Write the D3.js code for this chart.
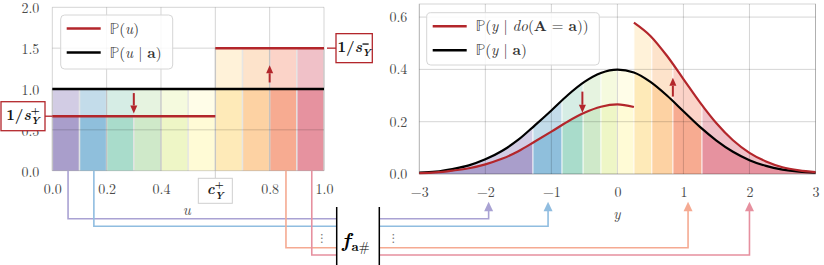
<!DOCTYPE html>
<html>
<head>
<meta charset="utf-8">
<script src="https://cdn.jsdelivr.net/npm/d3@7"></script>
<style>
  body { margin: 0; background: #fff; }
</style>
</head>
<body>
<svg id="fig" width="824" height="265"></svg>
<script>
// ---- data ----
const uEdges = [0, 0.1, 0.2, 0.3, 0.4, 0.5, 0.6, 0.7, 0.8, 0.9, 1.0];
const pUSteps = [0, 0.6, 1.0];          // P(u) is piecewise constant
const pUValues = [0.667, 1.5];
const pUgivenA = 1.0;
const uTicks = [0, 0.2, 0.4, 0.6, 0.8, 1.0];
const pTicks = [0, 0.5, 1.0, 1.5, 2.0];

const yEdges = [-3, -1.28, -0.84, -0.52, -0.25, 0, 0.25, 0.52, 0.84, 1.28, 3];
const yTicks = [-3, -2, -1, 0, 1, 2, 3];
const densTicks = [0, 0.2, 0.4, 0.6];

const yPts = [-3, -2.75, -2.5, -2.25, -2, -1.75, -1.5, -1.25, -1, -0.75, -0.5, -0.25, 0,
              0.25, 0.5, 0.75, 1, 1.25, 1.5, 1.75, 2, 2.25, 2.5, 2.75, 3];
const pYgivenA = [0.005, 0.009, 0.019, 0.033, 0.056, 0.088, 0.131, 0.186, 0.243, 0.302, 0.352, 0.386, 0.399,
                  0.388, 0.352, 0.300, 0.240, 0.180, 0.128, 0.085, 0.053, 0.031, 0.017, 0.009, 0.005];
const doLowX = [-3, -2.75, -2.5, -2.25, -2, -1.75, -1.5, -1.25, -1, -0.75, -0.5, -0.25, 0, 0.25];
const doLow  = [0.003, 0.006, 0.013, 0.022, 0.037, 0.058, 0.087, 0.124, 0.162, 0.201, 0.234, 0.257, 0.266, 0.256];
const doHighX = [0.25, 0.5, 0.75, 1, 1.25, 1.5, 1.75, 2, 2.25, 2.5, 2.75, 3];
const doHigh  = [0.579, 0.528, 0.452, 0.363, 0.274, 0.194, 0.129, 0.081, 0.048, 0.026, 0.014, 0.007];

// arrows showing the shift of mass
const shiftU = [{u: 0.3, from: 0.95, to: 0.70}, {u: 0.8, from: 1.08, to: 1.29}];
const shiftY = [{y: -0.53, from: 0.315, to: 0.234}, {y: 0.84, from: 0.296, to: 0.368}];

// links u -> y through the push-forward map
const linkU = [0.058, 0.153, 0.86, 0.955];
const linkY = [-1.95, -1.05, 1.07, 2.0];

// ---- styles ----
const FONT = "'Latin Modern Roman', 'Latin Modern Math', 'Liberation Serif', serif";
const binLight = ["#d2cce4", "#c3dcea", "#d6ede5", "#e6f3e0", "#f5fade", "#fffde8",
                  "#fff2d9", "#fde3cb", "#fbd3c8", "#f0c1c8"];
const binDark  = ["#a99ecb", "#8fbfdc", "#a9dccb", "#cfe9c9", "#eef6c6", "#fffbd6",
                  "#feeab8", "#fdd2a3", "#f7ab91", "#e6929f"];
const linkColors = ["#a9a2d3", "#90bde0", "#f5aa92", "#e6909f"];
const RED = "#b3262b";
const GRID = "rgba(0,0,0,0.17)";
const TICK = "#4a4a4a";
const rowY = [218.7, 226.3, 247.7, 255];   // heights of the link rows

const svg = d3.select("#fig").style("font-family", FONT);

const xL = d3.scaleLinear().domain([0, 1]).range([52.3, 324]);
const yL = d3.scaleLinear().domain([0, 2]).range([170.7, 7.3]);
const xR = d3.scaleLinear().domain([-3, 3]).range([419.3, 815.5]);
const yR = d3.scaleLinear().domain([0, 0.65]).range([174, 4]);

function pUat(u) {
  for (let i = 0; i < pUValues.length; i++)
    if (u >= pUSteps[i] && u < pUSteps[i + 1]) return pUValues[i];
  return pUValues[pUValues.length - 1];
}

function arrowV(g, x, y0, y1, color, w, len) {
  const dir = y1 > y0 ? 1 : -1;
  g.append("line").attr("x1", x).attr("x2", x).attr("y1", y0).attr("y2", y1 - dir * len)
    .attr("stroke", color).attr("stroke-width", 2);
  g.append("path")
    .attr("d", `M${x},${y1} L${x - w / 2},${y1 - dir * len} L${x + w / 2},${y1 - dir * len} Z`)
    .attr("fill", color);
}

function styleTicks(g) {
  g.select(".domain").remove();
  g.selectAll(".tick line").remove();
  g.attr("font-family", null);
  g.selectAll("text").attr("fill", TICK).style("font-size", "14px").style("font-family", FONT);
}

// symbol with stacked super/subscript, centred on cx
function scripted(cx, baseY, main, sup, sub, size, color) {
  const g = svg.append("g").attr("fill", color).style("font-weight", "bold");
  const t = g.append("text").attr("x", 0).attr("y", baseY).style("font-size", size + "px");
  main.forEach(p => t.append("tspan").text(p[0]).style("font-style", p[1] ? "italic" : null));
  const mw = t.node().getComputedTextLength();
  const small = size * 0.68;
  let supW;
  if (sup === "-") {
    // minus sign drawn as a short bar
    supW = small * 0.6;
    g.append("rect").attr("x", mw + 0.5).attr("y", baseY - size * 0.55).attr("width", supW).attr("height", 1.3);
  } else {
    const s = g.append("text").attr("x", mw).attr("y", baseY - size * 0.4)
      .style("font-size", small + "px").text(sup);
    supW = s.node().getComputedTextLength();
  }
  const b = g.append("text").attr("x", mw).attr("y", baseY + size * 0.3)
    .style("font-size", small + "px").style("font-style", "italic").text(sub);
  const total = mw + Math.max(supW, b.node().getComputedTextLength());
  g.attr("transform", `translate(${cx - total / 2},0)`);
  return g;
}

// ================= left panel =================
const left = svg.append("g");

const bins = d3.range(uEdges.length - 1).map(i => {
  const p = pUat((uEdges[i] + uEdges[i + 1]) / 2);
  return {i, u0: uEdges[i], u1: uEdges[i + 1], lo: Math.min(p, pUgivenA), hi: Math.max(p, pUgivenA)};
});

left.append("g").selectAll("rect").data(bins).join("rect")
  .attr("x", d => xL(d.u0)).attr("width", d => xL(d.u1) - xL(d.u0))
  .attr("y", d => yL(d.lo)).attr("height", d => yL(0) - yL(d.lo))
  .attr("fill", d => binDark[d.i]);
left.append("g").selectAll("rect").data(bins).join("rect")
  .attr("x", d => xL(d.u0)).attr("width", d => xL(d.u1) - xL(d.u0))
  .attr("y", d => yL(d.hi)).attr("height", d => yL(d.lo) - yL(d.hi))
  .attr("fill", d => binLight[d.i]);
// bar edges
left.append("g").selectAll("line").data(uEdges).join("line")
  .attr("x1", d => xL(d)).attr("x2", d => xL(d))
  .attr("y1", yL(0)).attr("y2", d => yL(Math.max(pUat(Math.max(0, d - 0.001)), pUat(Math.min(0.999, d)), pUgivenA)))
  .attr("stroke", "rgba(228,228,228,0.9)").attr("stroke-width", 1.6);

// grid + frame
left.append("g").selectAll("line").data(pTicks).join("line")
  .attr("x1", xL(0)).attr("x2", xL(1)).attr("y1", d => yL(d)).attr("y2", d => yL(d))
  .attr("stroke", GRID);
left.append("g").selectAll("line").data(uTicks).join("line")
  .attr("x1", d => xL(d)).attr("x2", d => xL(d)).attr("y1", yL(0)).attr("y2", yL(2))
  .attr("stroke", GRID);

left.append("g").attr("transform", `translate(0,${yL(0)})`)
  .call(d3.axisBottom(xL).tickValues(uTicks).tickSize(0).tickPadding(13)
    .tickFormat(d => Math.abs(d - 0.6) < 1e-9 ? "" : d3.format(".1f")(d)))
  .call(styleTicks);
left.append("g").attr("transform", `translate(${xL(0)},0)`)
  .call(d3.axisLeft(yL).tickValues(pTicks).tickSize(0).tickPadding(13).tickFormat(d3.format(".1f")))
  .call(styleTicks)
  .call(g => g.selectAll("text").attr("dy", "0.38em"));

// P(u|a) and P(u)
left.append("line").attr("x1", xL(0)).attr("x2", xL(1))
  .attr("y1", yL(pUgivenA)).attr("y2", yL(pUgivenA))
  .attr("stroke", "#000").attr("stroke-width", 2.5);
left.append("g").selectAll("line").data(pUValues).join("line")
  .attr("x1", (d, i) => xL(pUSteps[i])).attr("x2", (d, i) => xL(pUSteps[i + 1]))
  .attr("y1", d => yL(d)).attr("y2", d => yL(d))
  .attr("stroke", RED).attr("stroke-width", 2.5);

shiftU.forEach(a => arrowV(left, xL(a.u), yL(a.from), yL(a.to), RED, 7, 8));

// ================= right panel =================
const right = svg.append("g");
const defs = svg.append("defs");

const areaBlack = d3.area().curve(d3.curveMonotoneX)
  .x((d, i) => xR(yPts[i])).y0(yR(0)).y1(d => yR(d));
const areaLow = d3.area().curve(d3.curveMonotoneX)
  .x((d, i) => xR(doLowX[i])).y0(yR(0)).y1(d => yR(d));
const areaHigh = d3.area().curve(d3.curveMonotoneX)
  .x((d, i) => xR(doHighX[i])).y0(yR(0)).y1(d => yR(d));

const redClip = defs.append("clipPath").attr("id", "redClip");
redClip.append("path").attr("d", areaLow(doLow));
redClip.append("path").attr("d", areaHigh(doHigh));
const unionClip = defs.append("clipPath").attr("id", "unionClip");
unionClip.append("path").attr("d", areaLow(doLow));
unionClip.append("path").attr("d", areaHigh(doHigh));
unionClip.append("path").attr("d", areaBlack(pYgivenA));

d3.range(yEdges.length - 1).forEach(i => {
  defs.append("clipPath").attr("id", "ybin" + i).append("rect")
    .attr("x", xR(yEdges[i])).attr("width", xR(yEdges[i + 1]) - xR(yEdges[i]))
    .attr("y", 0).attr("height", yR(0));
  const g = right.append("g").attr("clip-path", `url(#ybin${i})`);
  g.append("path").attr("d", areaBlack(pYgivenA)).attr("fill", binLight[i]);
  g.append("path").attr("d", areaLow(doLow)).attr("fill", binLight[i]);
  g.append("path").attr("d", areaHigh(doHigh)).attr("fill", binLight[i]);
  g.append("g").attr("clip-path", "url(#redClip)")
    .append("path").attr("d", areaBlack(pYgivenA)).attr("fill", binDark[i]);
});
right.append("g").attr("clip-path", "url(#unionClip)")
  .selectAll("line").data(yEdges.slice(1, -1)).join("line")
  .attr("x1", d => xR(d)).attr("x2", d => xR(d)).attr("y1", yR(0)).attr("y2", yR(0.65))
  .attr("stroke", "rgba(255,255,255,0.75)").attr("stroke-width", 1.3);

right.append("g").selectAll("line").data(densTicks).join("line")
  .attr("x1", xR(-3)).attr("x2", xR(3)).attr("y1", d => yR(d)).attr("y2", d => yR(d))
  .attr("stroke", GRID);
right.append("g").selectAll("line").data(yTicks).join("line")
  .attr("x1", d => xR(d)).attr("x2", d => xR(d)).attr("y1", yR(0)).attr("y2", yR(0.65))
  .attr("stroke", GRID);
right.append("rect").attr("x", xR(-3)).attr("y", yR(0.65))
  .attr("width", xR(3) - xR(-3)).attr("height", yR(0) - yR(0.65))
  .attr("fill", "none").attr("stroke", GRID);

right.append("g").attr("transform", `translate(0,${yR(0)})`)
  .call(d3.axisBottom(xR).tickValues(yTicks).tickSize(0).tickPadding(13).tickFormat(d3.format("d")))
  .call(styleTicks);
right.append("g").attr("transform", `translate(${xR(-3)},0)`)
  .call(d3.axisLeft(yR).tickValues(densTicks).tickSize(0).tickPadding(12).tickFormat(d3.format(".1f")))
  .call(styleTicks);

const lineBlack = d3.line().curve(d3.curveMonotoneX).x((d, i) => xR(yPts[i])).y(d => yR(d));
const lineLow = d3.line().curve(d3.curveMonotoneX).x((d, i) => xR(doLowX[i])).y(d => yR(d));
const lineHigh = d3.line().curve(d3.curveMonotoneX).x((d, i) => xR(doHighX[i])).y(d => yR(d));
right.append("path").attr("d", lineBlack(pYgivenA)).attr("fill", "none")
  .attr("stroke", "#000").attr("stroke-width", 2.2);
right.append("path").attr("d", lineLow(doLow)).attr("fill", "none")
  .attr("stroke", RED).attr("stroke-width", 2.2);
right.append("path").attr("d", lineHigh(doHigh)).attr("fill", "none")
  .attr("stroke", RED).attr("stroke-width", 2.2);

shiftY.forEach(a => arrowV(right, xR(a.y), yR(a.from), yR(a.to), RED, 7, 8));

// ================= legends =================
function legend(x, y, w, h, rows) {
  const g = svg.append("g");
  g.append("rect").attr("x", x).attr("y", y).attr("width", w).attr("height", h).attr("rx", 4)
    .attr("fill", "rgba(255,255,255,0.85)").attr("stroke", "#d6d6d6");
  rows.forEach((r, k) => {
    const cy = y + 13.5 + k * 24;
    g.append("line").attr("x1", x + 6).attr("x2", x + 40).attr("y1", cy).attr("y2", cy)
      .attr("stroke", r.color).attr("stroke-width", 2.5);
    const t = g.append("text").attr("x", x + 49).attr("y", cy + 5).style("font-size", "15px").attr("fill", "#333");
    r.parts.forEach(p => t.append("tspan").text(p[0])
      .style("font-weight", p[1] && p[1].includes("b") ? "bold" : null)
      .style("font-style", p[1] && p[1].includes("i") ? "italic" : null));
  });
}
legend(60.7, 15, 112, 54, [
  {color: RED, parts: [["ℙ("], ["u", "i"], [")"]]},
  {color: "#000", parts: [["ℙ("], ["u", "i"], [" | "], ["a", "b"], [")"]]}
]);
legend(426.7, 12.7, 172.6, 52.3, [
  {color: RED, parts: [["ℙ("], ["y", "i"], [" | "], ["do", "i"], ["("], ["A", "b"], [" = "], ["a", "b"], ["))"]]},
  {color: "#000", parts: [["ℙ("], ["y", "i"], [" | "], ["a", "b"], [")"]]}
]);

// ================= annotation boxes =================
function sBox(x, w, value, sign, tickFrom, tickTo) {
  const cy = yL(value);
  svg.append("line").attr("x1", tickFrom).attr("x2", tickTo).attr("y1", cy).attr("y2", cy)
    .attr("stroke", RED).attr("stroke-width", 1.3);
  svg.append("rect").attr("x", x).attr("y", cy - 14.5).attr("width", w).attr("height", 29)
    .attr("fill", "#fff").attr("stroke", RED).attr("stroke-width", 1.3);
  scripted(x + w / 2, cy + 3.5, [["1/"], ["s", true]], sign, "Y", 15, "#111");
}
sBox(1, 44, pUValues[0], "+", 45, xL(0));
sBox(336, 36.3, pUValues[1], "-", xL(1) + 3, 336);

// c_Y^+ box under u = 0.6
const cx = xL(pUSteps[1]);
svg.append("line").attr("x1", cx).attr("x2", cx).attr("y1", yL(0)).attr("y2", 178.3).attr("stroke", "#cfcfcf");
svg.append("rect").attr("x", cx - 17).attr("y", 178.3).attr("width", 34).attr("height", 25)
  .attr("fill", "#fff").attr("stroke", "#cfcfcf");
scripted(cx, 194, [["c", true]], "+", "Y", 15, "#222");

// axis labels
svg.append("text").attr("x", 186.7).attr("y", 215).attr("text-anchor", "middle")
  .style("font-size", "15px").style("font-style", "italic").attr("fill", TICK).text("u");
svg.append("text").attr("x", 617).attr("y", 219).attr("text-anchor", "middle")
  .style("font-size", "15px").style("font-style", "italic").attr("fill", TICK).text("y");

// ================= push-forward links =================
const boxL = 336.7, boxR = 379.3, tipY = 201.7;
const links = svg.append("g").attr("fill", "none").attr("stroke-width", 1.6);
linkU.forEach((u, k) => {
  const xs = xL(u), xt = xR(linkY[k]), ry = rowY[k];
  links.append("path").attr("d", `M${xs},${yL(0)} V${ry} H${boxL}`).attr("stroke", linkColors[k]);
  links.append("path").attr("d", `M${boxR},${ry} H${xt} V${tipY + 9}`).attr("stroke", linkColors[k]);
  svg.append("path").attr("d", `M${xt},${tipY} L${xt - 4.5},${tipY + 9.5} L${xt + 4.5},${tipY + 9.5} Z`)
    .attr("fill", linkColors[k]);
});

svg.append("line").attr("x1", boxL).attr("x2", boxL).attr("y1", 207).attr("y2", 265)
  .attr("stroke", "#000").attr("stroke-width", 1.5);
svg.append("line").attr("x1", boxR).attr("x2", boxR).attr("y1", 207).attr("y2", 265)
  .attr("stroke", "#000").attr("stroke-width", 1.5);
const ft = svg.append("text").attr("x", 342).attr("y", 247).attr("fill", "#000");
ft.append("tspan").text("f").style("font-size", "21px").style("font-style", "italic").style("font-weight", "bold");
ft.append("tspan").text("a").style("font-size", "13px").style("font-weight", "bold").attr("dx", 1).attr("dy", 4);
ft.append("tspan").text("#").style("font-size", "13px");
[321.7, 393.3].forEach(x => svg.append("text").attr("x", x).attr("y", 242).attr("text-anchor", "middle")
  .style("font-size", "14px").attr("fill", "#777").text("⋮"));
</script>
</body>
</html>
